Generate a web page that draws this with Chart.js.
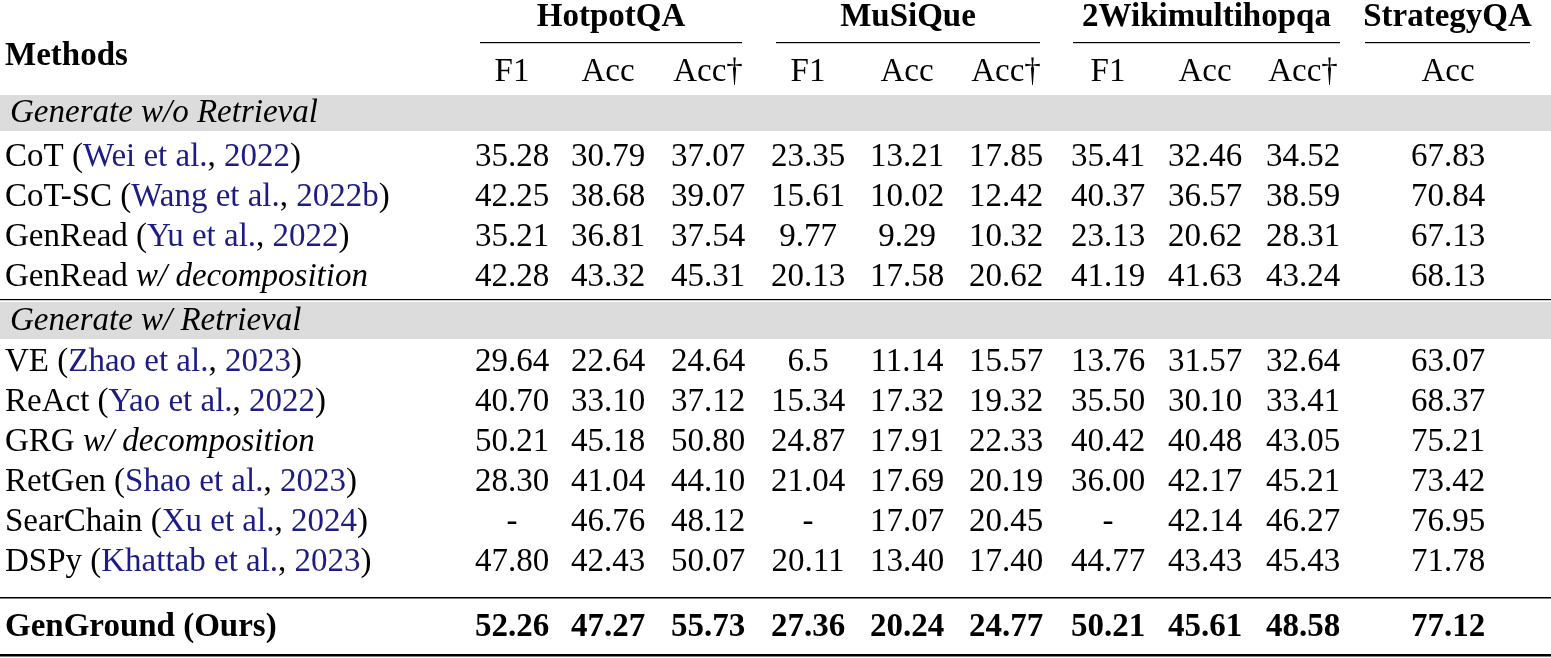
<!DOCTYPE html>
<html><head><meta charset="utf-8">
<script src="https://cdn.jsdelivr.net/npm/chart.js@4"></script>
<style>html,body{margin:0;padding:0;background:#fff}#wrap{width:1551px;height:658px}</style>
</head><body><div id="wrap"><canvas id="tbl"></canvas></div>
<script>
// table content - [..] = blue citation, {..} = italic
var groupNames = ["HotpotQA", "MuSiQue", "2Wikimultihopqa", "StrategyQA"];
var colNames = ["F1", "Acc", "Acc†", "F1", "Acc", "Acc†", "F1", "Acc", "Acc†", "Acc"];
var sectionNames = ["{Generate w/o Retrieval}", "{Generate w/ Retrieval}"];

var methods1 = [
    "CoT ([Wei et al.], [2022])",
    "CoT-SC ([Wang et al.], [2022b])",
    "GenRead ([Yu et al.], [2022])",
    "GenRead {w/ decomposition}"
];
var values1 = [
    ["35.28", "30.79", "37.07", "23.35", "13.21", "17.85", "35.41", "32.46", "34.52", "67.83"],
    ["42.25", "38.68", "39.07", "15.61", "10.02", "12.42", "40.37", "36.57", "38.59", "70.84"],
    ["35.21", "36.81", "37.54", "9.77", "9.29", "10.32", "23.13", "20.62", "28.31", "67.13"],
    ["42.28", "43.32", "45.31", "20.13", "17.58", "20.62", "41.19", "41.63", "43.24", "68.13"]
];
var methods2 = [
    "VE ([Zhao et al.], [2023])",
    "ReAct ([Yao et al.], [2022])",
    "GRG {w/ decomposition}",
    "RetGen ([Shao et al.], [2023])",
    "SearChain ([Xu et al.], [2024])",
    "DSPy ([Khattab et al.], [2023])"
];
var values2 = [
    ["29.64", "22.64", "24.64", "6.5", "11.14", "15.57", "13.76", "31.57", "32.64", "63.07"],
    ["40.70", "33.10", "37.12", "15.34", "17.32", "19.32", "35.50", "30.10", "33.41", "68.37"],
    ["50.21", "45.18", "50.80", "24.87", "17.91", "22.33", "40.42", "40.48", "43.05", "75.21"],
    ["28.30", "41.04", "44.10", "21.04", "17.69", "20.19", "36.00", "42.17", "45.21", "73.42"],
    ["-", "46.76", "48.12", "-", "17.07", "20.45", "-", "42.14", "46.27", "76.95"],
    ["47.80", "42.43", "50.07", "20.11", "13.40", "17.40", "44.77", "43.43", "45.43", "71.78"]
];
var oursName = "GenGround (Ours)";
var oursValues = ["52.26", "47.27", "55.73", "27.36", "20.24", "24.77", "50.21", "45.61", "48.58", "77.12"];

// layout (in table units, mapped through the chart scales)
var colX = [512, 608, 708, 808, 907, 1006, 1108, 1205, 1303, 1448];
var groupSpan = [[480, 742], [776, 1040], [1073, 1340], [1365, 1530]];
var rowsY1 = [157, 197, 237, 277];
var rowsY2 = [362, 402, 442, 482, 522, 562];
var FONT = "'Liberation Serif', 'DejaVu Serif', serif";
var FS = "33px ";
var BLUE = "#1c1c85";

function drawRich(ctx, str, x, y, bold) {
    var parts = str.split(/(\[[^\]]*\]|\{[^}]*\})/);
    for (var i = 0; i < parts.length; i++) {
        var p = parts[i];
        if (!p) continue;
        var style = bold ? "bold " : "";
        ctx.fillStyle = "#000";
        if (p[0] === "[") { p = p.slice(1, -1); ctx.fillStyle = BLUE; }
        else if (p[0] === "{") { p = p.slice(1, -1); style = "italic " + style; }
        ctx.font = style + FS + FONT;
        ctx.textAlign = "left";
        ctx.fillText(p, x, y);
        x += ctx.measureText(p).width;
    }
}

var tablePlugin = {
    id: "tablePlugin",
    afterDraw: function (chart) {
        var ctx = chart.ctx;
        var sx = chart.scales.x, sy = chart.scales.y;
        var X = function (v) { return sx.getPixelForValue(v); };
        var Y = function (v) { return sy.getPixelForValue(v); };
        ctx.save();
        ctx.textBaseline = "middle";

        // section bands
        ctx.fillStyle = "#dcdcdc";
        ctx.fillRect(X(0), Y(95), X(1551) - X(0), Y(131) - Y(95));
        ctx.fillRect(X(0), Y(302), X(1551) - X(0), Y(339) - Y(302));

        // header
        ctx.fillStyle = "#000";
        ctx.font = "bold " + FS + FONT;
        ctx.textAlign = "left";
        ctx.fillText("Methods", X(5), Y(56));
        ctx.textAlign = "center";
        for (var g = 0; g < groupNames.length; g++) {
            var mid = (groupSpan[g][0] + groupSpan[g][1]) / 2;
            ctx.font = "bold " + FS + FONT;
            ctx.fillText(groupNames[g], X(mid), Y(17));
            ctx.fillRect(X(groupSpan[g][0]), Y(42), X(groupSpan[g][1]) - X(groupSpan[g][0]), 1.2);
        }
        ctx.font = FS + FONT;
        for (var c = 0; c < colNames.length; c++) ctx.fillText(colNames[c], X(colX[c]), Y(72));

        drawRich(ctx, sectionNames[0], X(10), Y(113), false);
        drawRich(ctx, sectionNames[1], X(10), Y(321), false);

        function rows(names, vals, ys) {
            for (var r = 0; r < names.length; r++) {
                drawRich(ctx, names[r], X(5), Y(ys[r]), false);
                ctx.font = FS + FONT;
                ctx.fillStyle = "#000";
                ctx.textAlign = "center";
                for (var c = 0; c < vals[r].length; c++) ctx.fillText(vals[r][c], X(colX[c]), Y(ys[r]));
            }
        }
        rows(methods1, values1, rowsY1);
        rows(methods2, values2, rowsY2);

        drawRich(ctx, oursName, X(5), Y(627), true);
        ctx.font = "bold " + FS + FONT;
        ctx.textAlign = "center";
        for (var c = 0; c < oursValues.length; c++) ctx.fillText(oursValues[c], X(colX[c]), Y(627));

        // rules
        ctx.fillStyle = "#000";
        ctx.fillRect(X(0), Y(299), X(1551) - X(0), 1.2);
        ctx.fillRect(X(0), Y(597), X(1551) - X(0), 1.5);
        ctx.fillRect(X(0), Y(654), X(1551) - X(0), 2.5);
        ctx.restore();
    }
};

new Chart(document.getElementById("tbl").getContext("2d"), {
    type: "scatter",
    data: { datasets: [{ data: [] }] },
    options: {
        responsive: true,
        maintainAspectRatio: false,
        animation: false,
        layout: { padding: 0 },
        plugins: { legend: { display: false }, tooltip: { enabled: false } },
        scales: {
            x: { type: "linear", min: 0, max: 1551, display: false },
            y: { type: "linear", min: 0, max: 658, reverse: true, display: false }
        }
    },
    plugins: [tablePlugin]
});
</script>
</body></html>
